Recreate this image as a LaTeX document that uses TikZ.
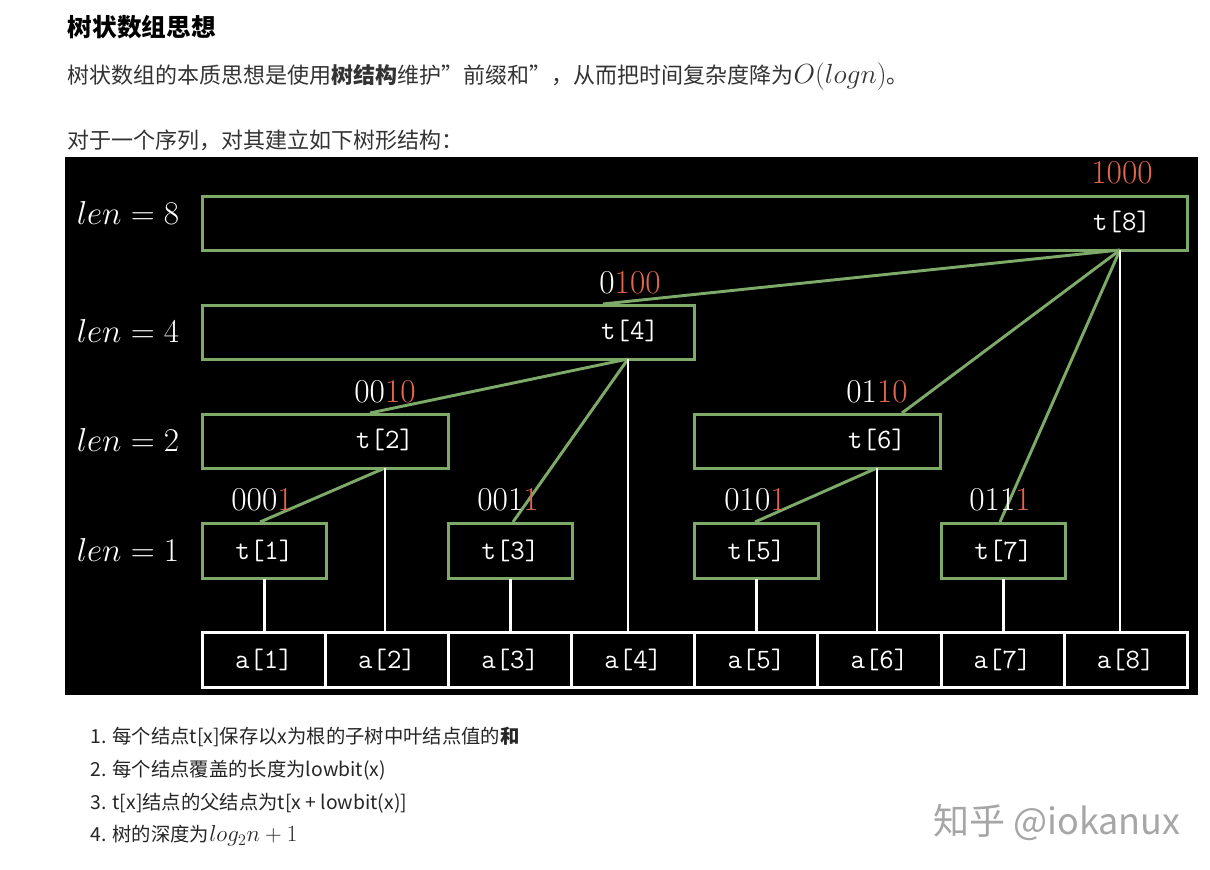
\documentclass[tikz,border=0pt]{standalone}
\usepackage{fontspec}
\newfontfamily\cjk{Noto Sans CJK SC}
\begin{document}
\begin{tikzpicture}[x=0.75pt,y=-0.75pt,
  gr/.style={draw=grn,line width=2.2pt},
  wl/.style={draw=white,line width=2.2pt},
  tbox/.style={gr,anchor=north west,inner sep=0pt,text=white,font=\fontsize{21}{21}\selectfont\ttfamily},
  abox/.style={wl,anchor=north west,minimum width=92.25pt,minimum height=41pt,inner sep=0pt,text=white,font=\fontsize{21}{21}\selectfont\ttfamily},
  lenl/.style={text=white,font=\fontsize{28}{28}\selectfont},
  bits/.style={text=white,font=\fontsize{25}{25}\selectfont},
  body/.style={anchor=west,font=\cjk\fontsize{16.5}{16.5}\selectfont,text=black!80},
  li/.style={anchor=west,font=\cjk\fontsize{14.5}{14.5}\selectfont,text=black!85}]
\definecolor{grn}{HTML}{7DAA68}
\definecolor{rd}{HTML}{E0664F}
\useasboundingbox (0,0) rectangle (1210,870);
\fill[white] (0,0) rectangle (1210,870);
\node[body,font=\cjk\bfseries\fontsize{18.5}{18.5}\selectfont,text=black] (title) at (63,27) {树状数组思想};
\node[body] (l1) at (63,77) {树状数组的本质思想是使用\textbf{树结构}维护”前缀和”，从而把时间复杂度降为{\fontsize{20}{20}\selectfont$O(logn)$}。};
\node[body] (l2) at (63,140) {对于一个序列，对其建立如下树形结构：};
\fill[black] (65,157) rectangle (1198,695);
% boxes
\node[tbox,minimum width=738.75pt,minimum height=40.5pt] (t8) at (201,195) {};
\node[text=white,font=\fontsize{21}{21}\selectfont\ttfamily] at (1122,222) {t[8]};
\node[tbox,minimum width=369pt,minimum height=40.5pt] (t4) at (201,304) {};
\node[text=white,font=\fontsize{21}{21}\selectfont\ttfamily] at (630,331) {t[4]};
\node[tbox,minimum width=184.5pt,minimum height=40.5pt] (t2) at (201,413) {};
\node[text=white,font=\fontsize{21}{21}\selectfont\ttfamily] at (385,440) {t[2]};
\node[tbox,minimum width=184.5pt,minimum height=40.5pt] (t6) at (693,413) {};
\node[text=white,font=\fontsize{21}{21}\selectfont\ttfamily] at (877,440) {t[6]};
\foreach \i/\x in {1/201,3/447,5/693,7/940}{
  \node[tbox,minimum width=93pt,minimum height=41pt] (t\i) at (\x,522) {t[\i]};
}
\foreach \i in {1,...,8}{
  \node[abox] (a\i) at ({201+(\i-1)*123.1},631) {a[\i]};
}
% connectors
\coordinate (c8) at (1120,250);
\coordinate (c4) at (628,359);
\coordinate (c2) at (385,468);
\coordinate (c6) at (877,468);
\draw[gr] (c8) -- (603,304);
\draw[gr] (c8) -- (902,413);
\draw[gr] (c8) -- (1000,522);
\draw[wl] (c8) -- (a8.north -| c8);
\draw[gr] (c4) -- (370,413);
\draw[gr] (c4) -- (513,522);
\draw[wl] (c4) -- (a4.north -| c4);
\draw[gr] (c2) -- (260,522);
\draw[wl] (c2) -- (a2.north -| c2);
\draw[gr] (c6) -- (755,522);
\draw[wl] (c6) -- (a6.north -| c6);
\foreach \i in {1,3,5,7}{\draw[wl] (t\i.south) ++(0,-1) -- (a\i.north -| t\i.south);}
% bit labels
\node[bits] (b8) at (1122,173) {\textcolor{rd}{1000}};
\node[bits] (b4) at (630,283) {0\textcolor{rd}{100}};
\node[bits] (b2) at (385,392) {00\textcolor{rd}{10}};
\node[bits] (b6) at (877,392) {01\textcolor{rd}{10}};
\node[bits] (b1) at (262,500) {000\textcolor{rd}{1}};
\node[bits] (b3) at (508,500) {001\textcolor{rd}{1}};
\node[bits] (b5) at (755,500) {010\textcolor{rd}{1}};
\node[bits] (b7) at (1000,500) {011\textcolor{rd}{1}};
% len labels
\node[lenl] (n8) at (128,213) {$len=8$};
\node[lenl] (n4) at (128,331) {$len=4$};
\node[lenl] (n2) at (128,440) {$len=2$};
\node[lenl] (n1) at (128,550) {$len=1$};
% list
\node[li] (i1) at (86,737) {1. 每个结点t[x]保存以x为根的子树中叶结点值的\textbf{和}};
\node[li] (i2) at (86,770) {2. 每个结点覆盖的长度为lowbit(x)};
\node[li] (i3) at (86,803) {3. t[x]结点的父结点为t[x + lowbit(x)]};
\node[li] (i4) at (86,836) {4. 树的深度为{\fontsize{17}{17}\selectfont$log_2n+1$}};
\node[anchor=center,font=\cjk\fontsize{27}{27}\selectfont,text=black!35] (wm) at (1057,822) {知乎 @iokanux};
\end{tikzpicture}
\end{document}
